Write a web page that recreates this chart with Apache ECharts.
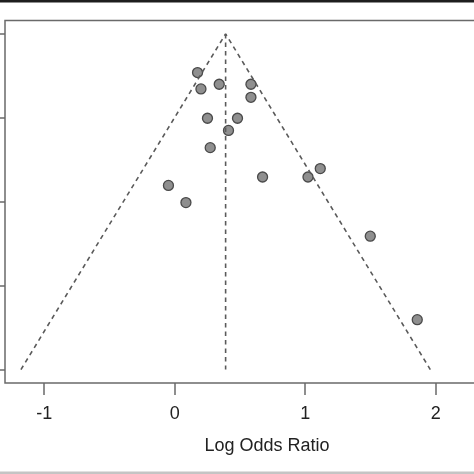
<!DOCTYPE html>
<html>
<head>
<meta charset="utf-8">
<script src="https://cdn.jsdelivr.net/npm/echarts@6/dist/echarts.min.js"></script>
<style>
  html, body { margin: 0; padding: 0; background: #fff; }
  #chart { width: 474px; height: 474px; }
</style>
</head>
<body>
<div id="chart"></div>
<script>
  // study estimates (log odds ratio) and their standard errors
  const logOR = [0.175, 0.201, 0.341, 0.584, 0.584, 0.251, 0.481, 0.412,
    0.272, -0.048, 0.086, 0.673, 1.021, 1.115, 1.498, 1.858]
  const stdErr = [0.092, 0.131, 0.120, 0.120, 0.151, 0.201, 0.201, 0.230,
    0.271, 0.361, 0.402, 0.341, 0.341, 0.321, 0.482, 0.681]
  // funnel outline and pooled estimate
  const funnelX = [-1.178, 0.39, 1.958]
  const funnelSE = [0.8, 0, 0.8]
  const pooledX = [0.39, 0.39]
  const pooledSE = [0, 0.8]
  const xTicks = [-1, 0, 1, 2]
  const yTicks = [0, 0.2, 0.4, 0.6, 0.8]

  const chart = echarts.init(document.getElementById('chart'))
  const font = 'Liberation Sans, Arial, sans-serif'
  const dashed = { color: '#5a5a5a', width: 1.6, type: [4.5, 4] }

  chart.setOption({
    animation: false,
    graphic: [
      { type: 'rect', shape: { x: 0, y: 0, width: 474, height: 2.5 }, style: { fill: '#1e1e1e' } },
      { type: 'rect', shape: { x: 0, y: 471.5, width: 474, height: 3 }, style: { fill: '#c4c4c4' } }
    ],
    grid: {
      left: 5, top: 20.5, width: 524, height: 362.5,
      outerBoundsMode: 'none', containLabel: false,
      show: true, borderColor: '#6a6a6a', borderWidth: 1.5
    },
    xAxis: {
      type: 'value', min: -1.3, max: 2.714, position: 'bottom',
      name: 'Log Odds Ratio', nameLocation: 'middle', nameGap: 54,
      nameTextStyle: { fontFamily: font, fontSize: 18, color: '#222' },
      axisLine: { show: false, onZero: false },
      axisTick: { show: true, length: 12, customValues: xTicks, lineStyle: { color: '#6a6a6a', width: 1.5 } },
      axisLabel: { customValues: xTicks, margin: 22.5, fontFamily: font, fontSize: 18, color: '#222' },
      splitLine: { show: false }
    },
    yAxis: {
      type: 'value', inverse: true, min: -0.032, max: 0.832, position: 'left',
      axisLine: { show: false, onZero: false },
      axisTick: { show: true, length: 7, customValues: yTicks, lineStyle: { color: '#6a6a6a', width: 1.5 } },
      axisLabel: { show: false },
      splitLine: { show: false }
    },
    series: [
      {
        type: 'line', symbol: 'none', silent: true,
        data: funnelX.map((x, i) => [x, funnelSE[i]]),
        lineStyle: dashed
      },
      {
        type: 'line', symbol: 'none', silent: true,
        data: pooledX.map((x, i) => [x, pooledSE[i]]),
        lineStyle: dashed
      },
      {
        type: 'scatter', symbol: 'circle', symbolSize: 10,
        data: logOR.map((x, i) => [x, stdErr[i]]),
        itemStyle: { color: '#8f8f8f', borderColor: '#4a4a4a', borderWidth: 1.3, opacity: 1 }
      }
    ]
  })
</script>
</body>
</html>
